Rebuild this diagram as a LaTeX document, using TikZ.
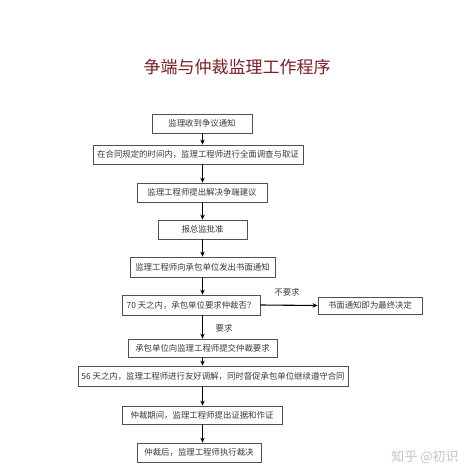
\documentclass[tikz,border=0pt]{standalone}
\usepackage{fontspec}
\setmainfont{Noto Sans CJK SC}
\newfontfamily\cjk{Noto Sans CJK SC}
\usetikzlibrary{arrows.meta}
\definecolor{titlered}{HTML}{7A1F26}
\definecolor{boxline}{HTML}{505050}
\definecolor{boxtext}{HTML}{3A3A3A}
\definecolor{wm}{HTML}{C4C4C4}
\tikzset{
  stepbox/.style={draw=boxline, line width=0.8pt, inner sep=0pt, minimum height=19pt, text=boxtext, font=\cjk\fontsize{8.4pt}{10pt}\selectfont},
  arr/.style={draw=black, line width=1.1pt, -{Stealth[length=5pt,width=4.5pt]}},
  lbl/.style={text=boxtext, font=\cjk\fontsize{8.4pt}{10pt}\selectfont, inner sep=0pt}
}
\begin{document}
\begin{tikzpicture}[x=1pt,y=-1pt]
\useasboundingbox[fill=white] (0,0) rectangle (474,476);
\node[text=titlered, font=\cjk\fontsize{17pt}{20pt}\selectfont] (title) at (237,67) {争端与仲裁监理工作程序};
\coordinate (ax) at (202.5,0);
\node[stepbox, minimum width=100pt] (b1) at (202,123.5) {监理收到争议通知};
\node[stepbox, minimum width=210pt] (b2) at (198,154.5) {在合同规定的时间内，监理工程师进行全面调查与取证};
\node[stepbox, minimum width=130pt] (b3) at (202,192.5) {监理工程师提出解决争端建议};
\node[stepbox, minimum width=89pt] (b4) at (202.5,229.5) {报总监批准};
\node[stepbox, minimum width=145pt, minimum height=20pt] (b5) at (202.5,267) {监理工程师向承包单位发出书面通知};
\node[stepbox, minimum width=138pt, minimum height=20pt] (b6) at (191,305) {70 天之内，承包单位要求仲裁否？};
\node[stepbox, minimum width=104pt, minimum height=17pt] (b7) at (370,305.5) {书面通知即为最终决定};
\node[stepbox, minimum width=149pt, minimum height=18pt] (b8) at (202.5,348) {承包单位向监理工程师提交仲裁要求};
\node[stepbox, minimum width=270pt, minimum height=20pt] (b9) at (213,376) {56 天之内，监理工程师进行友好调解，同时督促承包单位继续遵守合同};
\node[stepbox, minimum width=160pt, minimum height=18pt] (b10) at (202,415) {仲裁期间，监理工程师提出证据和作证};
\node[stepbox, minimum width=124pt] (b11) at (199,452.5) {仲裁后，监理工程师执行裁决};
\draw[arr] (b1.south -| ax) -- (b2.north -| ax);
\draw[arr] (b2.south -| ax) -- (b3.north -| ax);
\draw[arr] (b3.south -| ax) -- (b4.north -| ax);
\draw[arr] (b4.south -| ax) -- (b5.north -| ax);
\draw[arr] (b5.south -| ax) -- (b6.north -| ax);
\draw[arr] (b6.south -| ax) -- (b8.north -| ax);
\draw[arr] (b6.east) -- (b7.west);
\draw[arr] (b8.south -| ax) -- (b9.north -| ax);
\draw[arr] (b9.south -| ax) -- (b10.north -| ax);
\draw[arr] (b10.south -| ax) -- (b11.north -| ax);
\node[lbl] (no) at (287,292) {不要求};
\node[lbl] (yes) at (224,328) {要求};
\node[text=wm, font=\cjk\fontsize{13pt}{15pt}\selectfont, inner sep=0pt] (wmk) at (425,457) {知乎 @初识};
\end{tikzpicture}
\end{document}
